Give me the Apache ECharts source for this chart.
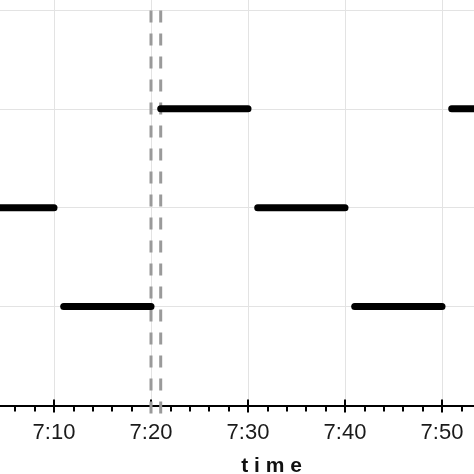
<!DOCTYPE html>
<html>
<head>
<meta charset="utf-8">
<script src="https://cdn.jsdelivr.net/npm/echarts@6/dist/echarts.min.js"></script>
<style>
  html, body { margin: 0; padding: 0; background: #fff; overflow: hidden; width: 474px; height: 474px; }
  /* the plot is cropped on the left, right and top, so the canvas is bigger than the page */
  #chart { position: absolute; left: -43px; top: -89px; width: 582px; height: 563px; }
</style>
</head>
<body>
<div id="chart"></div>
<script>
  // minutes since midnight
  var segStart = [421, 431, 441, 451, 461, 471];
  var segEnd = [430, 440, 450, 460, 470, 480];
  var segLevel = [2, 1, 3, 2, 1, 3];
  var markTimes = [440, 441];
  var xTickLabels = ['7:00', '7:10', '7:20', '7:30', '7:40', '7:50', '8:00'];

  function fmt(v) {
    return xTickLabels[Math.round((v - 420) / 10)] || '';
  }

  var series = [];
  // dashed markers
  markTimes.forEach(function (t) {
    series.push({
      type: 'line',
      data: [[t, -0.08], [t, 5]],
      symbol: 'none',
      silent: true,
      clip: false,
      lineStyle: { color: '#9a9a9a', width: 3, type: [12, 11] },
      z: 4
    });
  });
  for (var i = 0; i < segStart.length; i++) {
    series.push({
      type: 'line',
      data: [[segStart[i], segLevel[i]], [segEnd[i], segLevel[i]]],
      symbol: 'none',
      silent: true,
      lineStyle: { color: '#000', width: 7, cap: 'round' },
      z: 5
    });
  }

  var chart = echarts.init(document.getElementById('chart'));
  chart.setOption({
    animation: false,
    grid: { left: 0, right: 0, top: 0, bottom: 68.5, containLabel: false, outerBoundsMode: 'none' },
    xAxis: [{
      type: 'value',
      min: 420,
      max: 480,
      interval: 10,
      axisLine: { show: true, lineStyle: { color: '#000', width: 2 } },
      axisTick: { show: true, length: 7, lineStyle: { color: '#000', width: 2 } },
      minorTick: { show: true, splitNumber: 5, length: 6, lineStyle: { color: '#000', width: 2 } },
      axisLabel: {
        formatter: fmt, color: '#1a1a1a', fontSize: 22, margin: 16,
        fontFamily: 'Liberation Sans'
      },
      splitLine: { show: true, lineStyle: { color: '#e3e3e3', width: 1 } }
    }, {
      type: 'value',
      position: 'bottom',
      min: 420,
      max: 480,
      interval: 10,
      axisLine: { show: false },
      axisTick: { show: true, inside: true, length: 6, lineStyle: { color: '#000', width: 2 } },
      axisLabel: { show: false },
      splitLine: { show: false }
    }],
    yAxis: {
      type: 'value',
      min: 0,
      max: 5,
      interval: 1,
      axisLine: { show: false },
      axisTick: { show: false },
      axisLabel: { show: false },
      splitLine: { show: true, lineStyle: { color: '#e3e3e3', width: 1 } }
    },
    graphic: [{
      type: 'text',
      x: 314.5,
      y: 555,
      style: {
        text: 't i m e',
        fontSize: 21,
        fontWeight: 'bold',
        fontFamily: 'Liberation Sans',
        fill: '#111',
        textAlign: 'center',
        textVerticalAlign: 'middle'
      }
    }],
    series: series
  });
</script>
</body>
</html>
